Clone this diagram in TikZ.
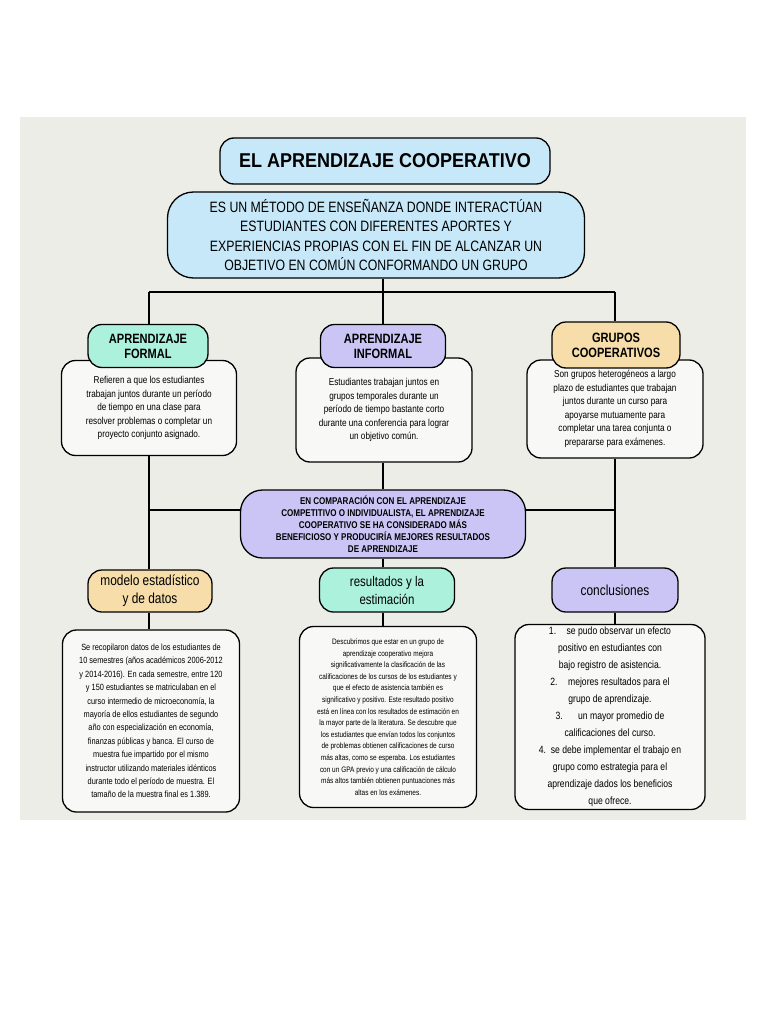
\documentclass[tikz,border=0pt]{standalone}
\usepackage{fontspec}
\setmainfont{Liberation Sans}[FakeStretch=0.82]
\newfontfamily\titlef{Liberation Sans}[FakeStretch=0.9]
\begin{document}
\begin{tikzpicture}[x=1pt,y=-1pt,
  box/.style={draw=black,line width=1.3pt,rounded corners=14pt,align=center,inner sep=2pt},
  hdr/.style={box,font=\fontsize{13.5}{15}\selectfont},
  desc/.style={box,fill=white!60!bggray,font=\fontsize{10}{13.5}\selectfont},
  ln/.style={line width=1.3pt}]
\definecolor{bggray}{HTML}{EDEDE8}
\definecolor{lblue}{HTML}{C6E8F8}
\definecolor{mint}{HTML}{ABF1DC}
\definecolor{lav}{HTML}{CBC5F5}
\definecolor{tan}{HTML}{F6DDA9}
\useasboundingbox (0,0) rectangle (768,1024);
\fill[white] (0,0) rectangle (768,1024);
\fill[bggray] (20,117) rectangle (746,820);
% top
\node[box,fill=lblue,minimum width=330,minimum height=46,font=\titlef\bfseries\fontsize{20}{22}\selectfont] (title) at (385,161) {EL APRENDIZAJE COOPERATIVO};
\node[box,fill=lblue,rounded corners=26pt,minimum width=417,minimum height=86,font=\fontsize{15}{19.5}\selectfont] (def) at (376,235) {ES UN MÉTODO DE ENSEÑANZA  DONDE INTERACTÚAN\\ESTUDIANTES CON DIFERENTES  APORTES Y\\EXPERIENCIAS PROPIAS CON EL FIN DE ALCANZAR UN\\OBJETIVO EN COMÚN CONFORMANDO UN GRUPO};
% desc
\node[desc,minimum width=175,minimum height=95] (df) at (149,408) {Refieren a que los estudiantes\\trabajan juntos durante un período\\de tiempo en una clase para\\resolver problemas o completar un\\proyecto conjunto asignado.};
\node[desc,minimum width=176,minimum height=104] (di) at (384,410) {Estudiantes trabajan juntos en\\grupos temporales durante un\\período de tiempo bastante corto\\durante una conferencia para lograr\\un objetivo común.};
\node[desc,minimum width=176,minimum height=98] (dg) at (615,409) {Son grupos heterogéneos a largo\\plazo de estudiantes que trabajan\\juntos durante un curso para\\apoyarse mutuamente para\\completar una tarea conjunta o\\prepararse para exámenes.};
% headers
\node[hdr,fill=mint,minimum width=120,minimum height=43] (hf) at (148,346) {\textbf{APRENDIZAJE}\\\textbf{FORMAL}};
\node[hdr,fill=lav,minimum width=125,minimum height=43] (hi) at (383,346) {\textbf{APRENDIZAJE}\\\textbf{INFORMAL}};
\node[hdr,fill=tan,minimum width=128,minimum height=46] (hg) at (616,345) {\textbf{GRUPOS}\\\textbf{COOPERATIVOS}};
% center
\node[box,fill=lav,rounded corners=22pt,minimum width=285,minimum height=68,font=\fontsize{9.8}{12}\selectfont\bfseries] (mid) at (383,524) {EN COMPARACIÓN CON EL APRENDIZAJE\\COMPETITIVO O INDIVIDUALISTA, EL APRENDIZAJE\\COOPERATIVO SE HA CONSIDERADO MÁS\\BENEFICIOSO Y PRODUCIRÍA MEJORES RESULTADOS\\DE APRENDIZAJE};
% lower headers
\node[hdr,fill=tan,minimum width=124,minimum height=42,font=\fontsize{14.5}{18}\selectfont] (hm) at (150,591) {modelo estadístico\\y de datos};
\node[hdr,fill=mint,minimum width=135,minimum height=44,font=\fontsize{14}{18}\selectfont] (hr) at (387,590) {resultados y la\\estimación};
\node[hdr,fill=lav,minimum width=126,minimum height=44,font=\fontsize{14.5}{18}\selectfont] (hc) at (615,590) {conclusiones};
% bottom boxes
\node[desc,minimum width=177,minimum height=182,font=\fontsize{9}{13.4}\selectfont] (bm) at (151,721) {Se recopilaron datos de los estudiantes de\\10 semestres (años académicos 2006-2012\\y 2014-2016). En cada semestre, entre 120\\y 150 estudiantes se matriculaban en el\\curso intermedio de microeconomía, la\\mayoría de ellos estudiantes de segundo\\año con especialización en economía,\\finanzas públicas y banca. El curso de\\muestra fue impartido por el mismo\\instructor utilizando materiales idénticos\\durante todo el período de muestra. El\\tamaño de la muestra final es 1.389.};
\node[desc,minimum width=177,minimum height=181,font=\fontsize{7.9}{11.6}\selectfont] (br) at (388,717) {Descubrimos que estar en un grupo de\\aprendizaje cooperativo mejora\\significativamente la clasificación de las\\calificaciones de los cursos de los estudiantes y\\que el efecto de asistencia también es\\significativo y positivo. Este resultado positivo\\está en línea con los resultados de estimación en\\la mayor parte de la literatura. Se descubre que\\los estudiantes que envían todos los conjuntos\\de problemas obtienen calificaciones de curso\\más altas, como se esperaba. Los estudiantes\\con un GPA previo y una calificación de cálculo\\más altos también obtienen puntuaciones más\\altas en los exámenes.};
\node[desc,minimum width=190,minimum height=185,font=\fontsize{10.5}{17}\selectfont] (bc) at (610,717) {1.\quad se pudo observar un efecto\\positivo en estudiantes con\\bajo registro de asistencia.\\2.\quad mejores resultados para el\\grupo de aprendizaje.\\3.\quad\ \ un mayor promedio de\\calificaciones del curso.\\4.\ \ se debe implementar el trabajo en\\grupo como estrategia  para el\\aprendizaje dados los beneficios\\que ofrece.};
% connectors
\coordinate (jt) at (383,292);
\coordinate (jl) at (149,292);
\coordinate (jr) at (615,292);
\draw[ln] (def.south -| jt) -- (jt);
\draw[ln] (jl) -- (jr);
\draw[ln] (jl) -- (hf.north -| jl);
\draw[ln] (jt) -- (hi.north -| jt);
\draw[ln] (jr) -- (hg.north -| jr);
\draw[ln] (df.south -| jl) -- (hm.north -| jl);
\draw[ln] (di.south -| jt) -- (mid.north -| jt);
\draw[ln] (dg.south -| jr) -- (hc.north -| jr);
\coordinate (ml) at (149,510);
\coordinate (mr) at (615,510);
\draw[ln] (ml) -- (mid.west |- ml);
\draw[ln] (mid.east |- mr) -- (mr);
\draw[ln] (mid.south -| jt) -- (hr.north -| jt);
\draw[ln] (hm.south -| jl) -- (bm.north -| jl);
\draw[ln] (hr.south -| jt) -- (br.north -| jt);
\draw[ln] (hc.south -| jr) -- (bc.north -| jr);
\end{tikzpicture}
\end{document}
